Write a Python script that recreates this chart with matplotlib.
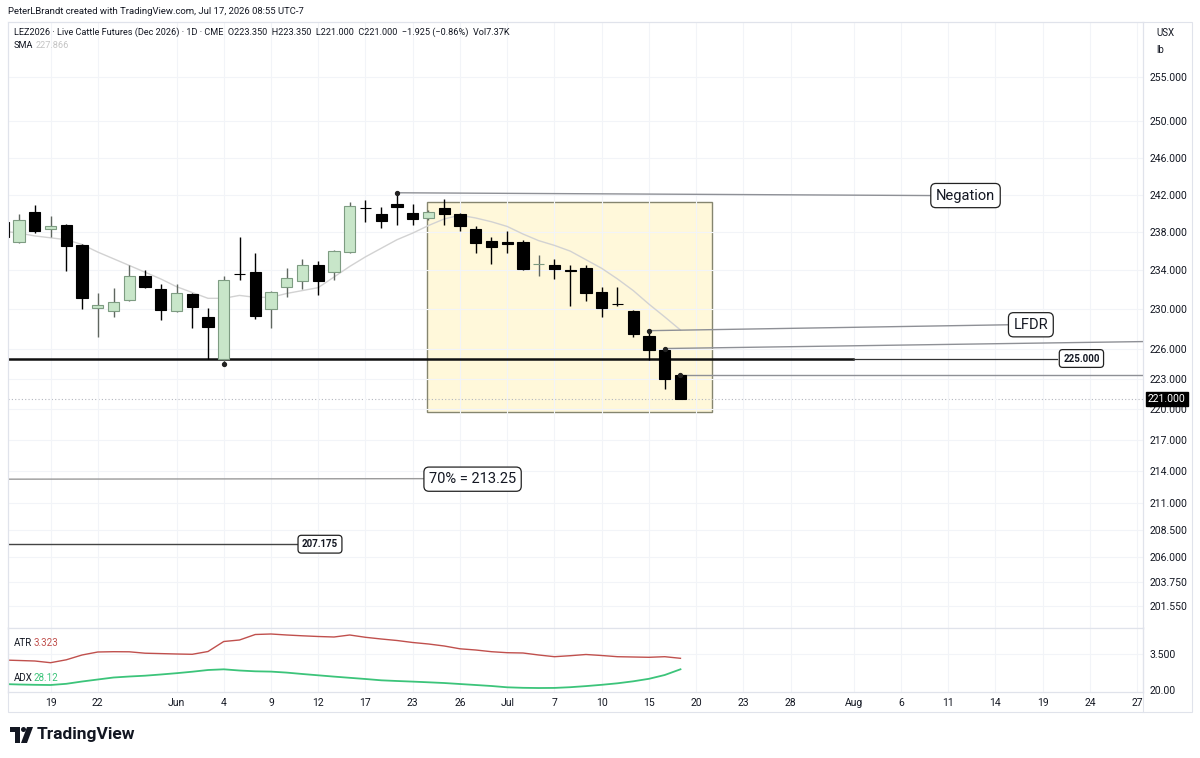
import matplotlib
matplotlib.use("Agg")
import matplotlib.pyplot as plt
from matplotlib.patches import Rectangle, Polygon, Ellipse
import matplotlib.ticker as mticker

plt.rcParams['font.family'] = ['Roboto', 'DejaVu Sans']

# daily bars, Live Cattle Dec 2026
dates = ['May 14', 'May 15', 'May 18', 'May 19', 'May 20', 'May 21', 'May 22', 'May 26', 'May 27', 'May 28',
         'May 29', 'Jun 1', 'Jun 2', 'Jun 3', 'Jun 4', 'Jun 5', 'Jun 8', 'Jun 9', 'Jun 10', 'Jun 11',
         'Jun 12', 'Jun 15', 'Jun 16', 'Jun 17', 'Jun 18', 'Jun 22', 'Jun 23', 'Jun 24', 'Jun 25', 'Jun 26',
         'Jun 29', 'Jun 30', 'Jul 1', 'Jul 2', 'Jul 6', 'Jul 7', 'Jul 8', 'Jul 9', 'Jul 10', 'Jul 13',
         'Jul 14', 'Jul 15', 'Jul 16', 'Jul 17']
opens = [239.1, 237.0, 240.1, 238.3, 238.8, 236.6, 230.1, 229.8, 230.9, 233.4,
         232.1, 229.8, 231.5, 229.2, 225.0, 233.65, 233.8, 230.0, 232.3, 232.9,
         234.6, 233.8, 235.9, 240.6, 239.9, 241.0, 240.0, 239.5, 240.6, 239.9,
         238.3, 237.1, 237.0, 237.0, 234.65, 234.6, 234.0, 234.2, 231.8, 230.55,
         229.8, 227.3, 225.9, 223.35]
highs = [239.6, 239.9, 240.9, 239.7, 238.9, 236.8, 231.6, 232.2, 234.6, 234.0,
         232.6, 232.6, 231.6, 230.1, 233.4, 237.5, 235.8, 231.9, 234.2, 235.2,
         235.0, 236.1, 241.2, 241.4, 240.7, 242.2, 241.0, 240.3, 241.5, 240.0,
         238.6, 237.5, 238.1, 237.2, 235.6, 235.2, 234.6, 234.6, 232.3, 232.3,
         229.9, 227.8, 226.0, 223.35]
lows = [237.2, 236.9, 237.9, 237.5, 233.9, 230.0, 227.2, 229.2, 230.8, 232.2,
        228.9, 229.7, 228.1, 225.0, 224.5, 233.0, 229.0, 228.1, 231.2, 232.1,
        231.4, 233.0, 235.8, 239.1, 238.4, 238.8, 238.8, 239.3, 238.8, 238.1,
        235.8, 234.7, 235.8, 234.0, 233.4, 233.1, 230.3, 230.8, 229.2, 230.3,
        227.2, 224.9, 222.0, 221.0]
closes = [237.5, 239.3, 238.1, 238.7, 236.5, 231.1, 230.4, 230.7, 233.4, 232.3,
          229.9, 231.6, 230.2, 228.2, 233.0, 233.6, 229.3, 231.8, 233.2, 234.6,
          232.9, 236.0, 240.8, 240.55, 239.2, 240.7, 239.4, 240.1, 239.9, 238.7,
          236.9, 236.4, 236.8, 234.1, 234.7, 234.1, 233.95, 231.6, 230.1, 230.5,
          227.5, 225.9, 222.925, 221.0]
sma = [238.1, 237.9, 237.6, 237.4, 237.2, 236.7, 235.9, 235.2, 234.5, 233.8,
       233.1, 232.3, 231.7, 231.1, 231.1, 231.4, 231.2, 231.2, 231.6, 231.9,
       232.2, 233.3, 234.4, 235.4, 236.3, 237.2, 237.9, 238.7, 239.4, 239.8,
       239.5, 239.1, 238.6, 237.8, 237.1, 236.6, 236.0, 235.1, 234.2, 233.1,
       231.9, 230.5, 229.2, 227.866]
atr = [3.255, 3.235, 3.215, 3.147, 3.263, 3.455, 3.575, 3.587, 3.583, 3.527,
       3.511, 3.495, 3.483, 3.595, 3.995, 4.055, 4.275, 4.295, 4.255, 4.223,
       4.195, 4.175, 4.255, 4.163, 4.095, 4.035, 3.955, 3.895, 3.815, 3.703,
       3.655, 3.587, 3.547, 3.535, 3.455, 3.387, 3.427, 3.475, 3.435, 3.387,
       3.375, 3.363, 3.387, 3.323]
adx = [22.35, 22.16, 22.04, 21.96, 22.43, 23.33, 24.12, 24.90, 25.29, 25.61,
       26.08, 26.59, 27.17, 27.84, 28.11, 27.64, 27.33, 27.21, 26.82, 26.27,
       25.76, 25.25, 24.78, 24.31, 23.80, 23.53, 23.29, 23.02, 22.74, 22.35,
       21.96, 21.57, 21.06, 20.86, 20.78, 20.82, 21.10, 21.53, 22.04, 22.63,
       23.41, 24.39, 25.88, 28.12]

# x axis labels, positions are trading-day index (0 = May 14)
tick_idx = [3, 6, 11, 14, 17, 20, 23, 26, 29, 32, 35, 38, 41, 44, 47, 50, 54, 57, 60, 63, 66, 69, 72]
tick_labels = ['19', '22', 'Jun', '4', '9', '12', '17', '23', '26', 'Jul', '7', '10', '15',
               '20', '23', '28', 'Aug', '6', '11', '14', '19', '24', '27']
price_ticks = [255, 250, 246, 242, 238, 234, 230, 226, 223, 220, 217, 214, 211, 208.5, 206, 203.75, 201.55]
price_labels = ['255.000', '250.000', '246.000', '242.000', '238.000', '234.000', '230.000', '226.000',
                '223.000', '220.000', '217.000', '214.000', '211.000', '208.500', '206.000', '203.750', '201.550']

TXT = '#131722'
GRID = '#f2f4f8'
BORDER = '#e0e3eb'
W, H = 1200, 758


def box(l, t, r, b):
    return [l / W, 1 - b / H, (r - l) / W, (b - t) / H]


fig = plt.figure(figsize=(12, 7.58), dpi=100)
ax = fig.add_axes(box(8, 22, 1143, 628))
axi = fig.add_axes(box(8, 628, 1143, 692), sharex=ax)

x = list(range(len(closes)))

ax.set_yscale('log')
ax.set_ylim(199.6, 261.3)
ax.set_xlim(0.3, 72.37)
ax.yaxis.set_major_locator(mticker.FixedLocator(price_ticks))
ax.yaxis.set_major_formatter(mticker.FixedFormatter(price_labels))
ax.yaxis.set_minor_locator(mticker.NullLocator())
ax.yaxis.tick_right()
ax.tick_params(axis='y', length=0, pad=5, labelsize=7.5, labelcolor=TXT)
ax.tick_params(axis='x', length=0, labelbottom=False)
ax.set_xticks(tick_idx)
ax.grid(True, color=GRID, lw=0.8, zorder=0)
for s in ax.spines.values():
    s.set_color(BORDER)
    s.set_linewidth(0.8)

# yellow pattern box
ax.add_patch(Rectangle((26.92, 219.7), 44.98 - 26.92, 241.25 - 219.7, facecolor='#fff8da',
                       edgecolor='#85856f', lw=1, zorder=1))

# current price line
ax.axhline(221.0, color='#b2b5be', lw=0.8, ls=(0, (1, 2)), zorder=1.5)

# sma
ax.plot(x, sma, color='#d2d2d2', lw=1, zorder=2)

# 225 line
ax.plot([0.3, 53.95], [225.0, 225.0], color='#111111', lw=1.8, zorder=3)
ax.plot([53.95, 66.9], [225.0, 225.0], color='#333333', lw=0.9, zorder=3)

# candles
for i in x:
    o, h, l, c = opens[i], highs[i], lows[i], closes[i]
    if c >= o:
        fill, edge, wick = '#c8e6c9', '#7e9c82', '#5f6660'
    else:
        fill, edge, wick = '#000000', '#000000', '#000000'
    ax.vlines(i, l, h, color=wick, lw=1, zorder=4)
    ax.bar(i, max(o, c) - min(o, c), bottom=min(o, c), width=0.72, color=fill,
           edgecolor=edge, lw=0.8, zorder=5)

# trend lines to labels
ax.plot([25, 58.97], [highs[25], 241.9], color='#8e9096', lw=1, zorder=3)
ax.plot([41, 63.86], [highs[41], 228.4], color='#8e9096', lw=1, zorder=3)
ax.plot([42, 72.4], [highs[42], 226.7], color='#8e9096', lw=1, zorder=3)
ax.plot([43, 72.4], [highs[43], highs[43]], color='#8e9096', lw=1, zorder=3)
ax.plot([0.3, 26.9], [213.25, 213.3], color='#9a9a9a', lw=1, zorder=3)
ax.plot([0.3, 18.65], [207.175, 207.175], color='#444444', lw=1, zorder=3)
ax.plot([25, 41, 42, 43, 14], [highs[25], highs[41], highs[42], highs[43], lows[14]], 'o',
        ms=2.8, color='#222222', zorder=6)

bb = dict(boxstyle='round,pad=0.35,rounding_size=0.35', fc='white', ec='#222222', lw=0.9)
ax.text(61.1, 241.9, 'Negation', fontsize=10.5, color=TXT, ha='center', va='center', bbox=bb, zorder=7)
ax.text(65.25, 228.4, 'LFDR', fontsize=10.5, color=TXT, ha='center', va='center', bbox=bb, zorder=7)
ax.text(29.8, 213.25, '70% = 213.25', fontsize=10.5, color=TXT, ha='center', va='center', bbox=bb, zorder=7)
bs = dict(boxstyle='round,pad=0.4,rounding_size=0.35', fc='white', ec='#222222', lw=0.9)
ax.text(68.46, 225.0, '225.000', fontsize=7, fontweight='bold', color=TXT, ha='center', va='center',
        bbox=bs, zorder=7)
ax.text(20.11, 207.175, '207.175', fontsize=7, fontweight='bold', color=TXT, ha='center', va='center',
        bbox=bs, zorder=7)

# last price tag on the price scale
ax.text(1.0 + 5 / 1135, 221.0, '221.000', transform=ax.get_yaxis_transform(), fontsize=7.5,
        color='white', ha='left', va='center', clip_on=False, zorder=8,
        bbox=dict(boxstyle='square,pad=0.2', fc='#000000', ec='#000000'))

# indicator pane (ATR and ADX overlaid, each on its own scale)
axd = axi.twinx()
axi.plot(x, atr, color='#c0504d', lw=1)
axi.set_ylim(1.975, 4.535)
axi.yaxis.tick_right()
axi.set_yticks([3.5])
axi.set_yticklabels(['3.500'])
axd.plot(x, adx, color='#3cc47a', lw=1.3)
axd.set_ylim(19.22, 44.3)
axd.yaxis.tick_right()
axd.set_yticks([20])
axd.set_yticklabels(['20.00'])
for a in (axi, axd):
    a.tick_params(axis='y', length=0, pad=5, labelsize=7.5, labelcolor=TXT)
    for s in a.spines.values():
        s.set_color(BORDER)
        s.set_linewidth(0.8)
axi.set_xticks(tick_idx)
axi.set_xticklabels(tick_labels)
axi.tick_params(axis='x', length=0, pad=4, labelsize=7.5, labelcolor=TXT)
axi.grid(True, color=GRID, lw=0.8)
axi.set_xlim(0.3, 72.37)

fig.text(14 / W, 1 - 643 / H, 'ATR', fontsize=7, color=TXT, va='center')
fig.text(34 / W, 1 - 643 / H, '3.323', fontsize=7, color='#c0504d', va='center')
fig.text(14 / W, 1 - 678 / H, 'ADX', fontsize=7, color=TXT, va='center')
fig.text(34 / W, 1 - 678 / H, '28.12', fontsize=7, color='#3cc47a', va='center')

# header text
fig.text(8 / W, 1 - 12 / H, 'PeterLBrandt created with TradingView.com, Jul 17, 2026 08:55 UTC-7',
         fontsize=6.8, color=TXT, va='center')
fig.text(14 / W, 1 - 32 / H, 'LEZ2026 · Live Cattle Futures (Dec 2026) · 1D · CME  O223.350  H223.350  '
         'L221.000  C221.000  \u22121.925 (\u22120.86%)  Vol7.37K', fontsize=6.6, color=TXT, va='center')
fig.text(14 / W, 1 - 46 / H, 'SMA', fontsize=6.6, color=TXT, va='center')
fig.text(36 / W, 1 - 46 / H, '227.866', fontsize=6.6, color='#c4c4c4', va='center')
fig.text(1156 / W, 1 - 33 / H, 'USX', fontsize=7, color=TXT, va='center')
fig.text(1156 / W, 1 - 50 / H, 'lb', fontsize=7, color=TXT, va='center')

# outer frame and time-scale row
fig.add_artist(Rectangle((8 / W, 1 - 712 / H), (1192 - 8) / W, (712 - 22) / H, transform=fig.transFigure,
                         fill=False, ec=BORDER, lw=0.8))
fig.add_artist(plt.Line2D([1143 / W, 1143 / W], [1 - 712 / H, 1 - 22 / H], transform=fig.transFigure,
                          color=BORDER, lw=0.8))

# TradingView logo
fig.add_artist(Polygon([(10 / W, 1 - 727 / H), (20 / W, 1 - 727 / H), (20 / W, 1 - 743 / H),
                        (15 / W, 1 - 743 / H), (15 / W, 1 - 732 / H), (10 / W, 1 - 732 / H)],
                       closed=True, transform=fig.transFigure, fc=TXT, ec='none'))
fig.add_artist(Ellipse((23.5 / W, 1 - 729.5 / H), 5 / W, 5 / H, transform=fig.transFigure, fc=TXT, ec='none'))
fig.add_artist(Polygon([(27 / W, 1 - 727 / H), (33 / W, 1 - 727 / H), (27 / W, 1 - 743 / H),
                        (21 / W, 1 - 743 / H)], closed=True, transform=fig.transFigure, fc=TXT, ec='none'))
fig.text(37 / W, 1 - 735 / H, 'TradingView', fontsize=12.5, fontweight='bold', color=TXT, va='center')

fig.savefig('out.png', dpi=100)
